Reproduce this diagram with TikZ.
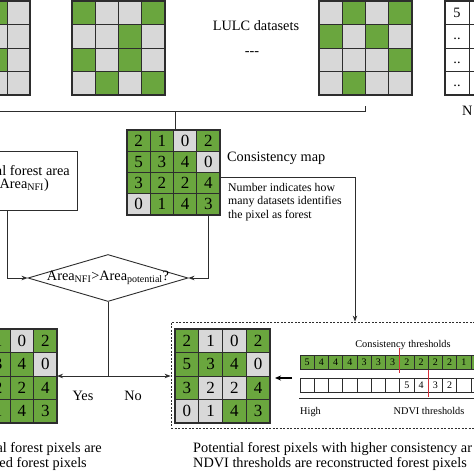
\documentclass[tikz,border=0pt]{standalone}
\usepackage{fontspec}
\setmainfont{Liberation Serif}
\usetikzlibrary{arrows.meta,shapes.geometric,fit,calc}
\definecolor{fg}{RGB}{106,166,62}
\definecolor{gy}{RGB}{216,216,216}
\definecolor{ln}{RGB}{45,45,45}
\definecolor{thr}{RGB}{214,48,58}
\newcommand{\mkgrid}[7]{%
  \foreach \v/\c [count=\i from 0] in {#6} {%
    \pgfmathtruncatemacro{\col}{mod(\i,4)}%
    \pgfmathtruncatemacro{\row}{int(\i/4)}%
    \node[gcell, fill=\c, minimum width=#4pt, minimum height=#5pt, #7] (#1\i) at ({#2+(\col+0.5)*#4},{#3+(\row+0.5)*#5}) {\v};%
  }%
}
\begin{document}
\begin{tikzpicture}[x=1pt,y=-1pt,
  gcell/.style={draw=ln, line width=0.6pt, inner sep=0pt, outer sep=0pt},
  conn/.style={draw=ln, line width=0.9pt},
  arr/.style={conn, -{Stealth[length=6pt,width=4.5pt]}},
  big/.style={font=\fontsize{14.3}{16}\selectfont, inner sep=0pt},
  lbl/.style={font=\fontsize{10.3}{12}\selectfont, inner sep=0pt},
  note/.style={font=\fontsize{11.8}{13}\selectfont, inner sep=0pt},
  dig/.style={font=\fontsize{17}{18}\selectfont},
  sdig/.style={font=\fontsize{10}{11}\selectfont},
  frame/.style={draw=ln, line width=1.1pt, inner sep=0pt, fill=none},
]
\useasboundingbox (0,0) rectangle (474,474);
\fill[white] (0,0) rectangle (474,474);
\begin{scope}
\clip (0,0) rectangle (474,474);
% ---- top row of LULC grids
\mkgrid{ga}{-62}{1}{23}{23.5}{{}/fg,{}/gy,{}/fg,{}/gy, {}/gy,{}/fg,{}/gy,{}/gy, {}/fg,{}/gy,{}/fg,{}/gy, {}/gy,{}/fg,{}/gy,{}/gy}{}
\node[frame, fit=(ga0)(ga15)] (lulcA) {};
\mkgrid{gb}{72}{1}{23.25}{23.5}{{}/fg,{}/gy,{}/gy,{}/fg, {}/gy,{}/gy,{}/fg,{}/gy, {}/fg,{}/gy,{}/fg,{}/gy, {}/gy,{}/fg,{}/gy,{}/fg}{}
\node[frame, fit=(gb0)(gb15)] (lulcB) {};
\mkgrid{gc}{319}{1}{23.25}{23.5}{{}/gy,{}/fg,{}/gy,{}/fg, {}/fg,{}/gy,{}/fg,{}/gy, {}/gy,{}/gy,{}/gy,{}/fg, {}/gy,{}/fg,{}/gy,{}/gy}{}
\node[frame, fit=(gc0)(gc15)] (lulcC) {};
\mkgrid{gd}{445}{1}{24}{23.5}{5/white,{}/white,{}/white,{}/white, {\raisebox{-7pt}{..}}/white,{}/white,{}/white,{}/white, {\raisebox{-7pt}{..}}/white,{}/white,{}/white,{}/white, {\raisebox{-7pt}{..}}/white,{}/white,{}/white,{}/white}{big}
\node[frame, fit=(gd0)(gd15)] (ndviG) {};
\node[big, anchor=base] (lulc) at (256,30) {LULC datasets};
\node[big, anchor=base] (dots) at (252,55) {-{}-{}-};
\node[big, anchor=base west] (ndvilab) at (462,115) {N};
% ---- consistency map
\mkgrid{cm}{127}{130}{23.25}{21.25}{2/fg,1/fg,0/gy,2/fg, 5/fg,3/fg,4/fg,0/gy, 3/fg,2/fg,2/fg,4/fg, 0/gy,1/fg,4/fg,3/fg}{dig}
\node[frame, fit=(cm0)(cm15)] (cmap) {};
\node[big, anchor=base west] (cmlab) at (227,161) {Consistency map};
\node[note, anchor=base west] (n1) at (228,191) {Number indicates how};
\node[note, anchor=base west] (n2) at (228,204.5) {many datasets identifies};
\node[note, anchor=base west] (n3) at (228,218) {the pixel as forest};
% bracket
\coordinate (brL) at (-5,111);
\coordinate (brR) at (365,106);
\coordinate (cmtop) at ([xshift=1.5pt]cm2.north west);
\draw[conn] (brL) -- (brL -| brR) -- (brR);
\draw[conn] (cmtop |- brL) -- (cmtop);
% ---- NFI box
\node[draw=ln, line width=0.9pt, minimum width=110pt, minimum height=59pt, inner sep=0pt] (nfi) at (22,180.5) {};
\node[big, anchor=base east] (nfit1) at (70,175) {al forest area};
\node[big, anchor=base east] (nfit2) at (49,188) {(Area\textsubscript{NFI})};
% ---- decision
\node[diamond, draw=ln, line width=0.9pt, minimum width=160pt, minimum height=47pt, inner sep=0pt] (dec) at (108,278) {};
\node[big, anchor=base] (dect) at (108,280) {Area\textsubscript{NFI}>Area\textsubscript{potential}?};
\coordinate (xa) at (7,0);
\draw[arr] (nfi.south -| xa) |- (dec.west);
\draw[arr] (cm15.south) |- (dec.east);
% ---- dashed box
\node[draw=ln, line width=0.8pt, dash pattern=on 2pt off 1.5pt, minimum width=330pt, minimum height=106pt, inner sep=0pt] (dbox) at (336,375) {};
\coordinate (yc) at (0,177);
\coordinate (xd) at (355,0);
\draw[arr] (cm7.east |- yc) -| (dbox.north -| xd);
% ---- bottom left grid
\mkgrid{bl}{-37}{329}{23.5}{23.5}{2/fg,1/fg,0/gy,2/fg, 5/fg,3/fg,4/fg,0/gy, 3/fg,2/fg,2/fg,4/fg, 0/gy,1/fg,4/fg,3/fg}{dig}
\node[frame, fit=(bl0)(bl15)] (blg) {};
\node[big, anchor=base east] (blt1) at (102,452.5) {al forest pixels are};
\node[big, anchor=base east] (blt2) at (87,467.5) {ed forest pixels};
% split
\coordinate (ys) at (0,376);
\coordinate (split) at (dec.south |- ys);
\draw[conn] (dec.south) -- (split);
\draw[arr] (split) -- (split -| bl3.east);
\draw[arr] (split) -- (split -| dbox.west);
\node[big, anchor=base] (yes) at (83,400) {Yes};
\node[big, anchor=base] (no) at (133,400) {No};
% ---- bottom right grid
\mkgrid{br}{175}{329}{23.75}{23.5}{2/fg,1/gy,0/gy,2/fg, 5/fg,3/fg,4/fg,0/gy, 3/fg,2/gy,2/gy,4/fg, 0/gy,1/gy,4/fg,3/fg}{dig}
\node[frame, fit=(br0)(br15)] (brg) {};
% strips
\foreach \v [count=\i from 0] in {5,4,4,4,3,3,3,2,2,2,2,1,1,0,0,0}
  \node[gcell, fill=fg, minimum width=14.25pt, minimum height=13.5pt, sdig] (sa\i) at ({300+(\i+0.5)*14.25},362.5) {\v};
\foreach \v [count=\i from 0] in {{},{},{},{},{},{},{},5,4,3,2,{},{},{},{},{}}
  \node[gcell, fill=white, minimum width=14.25pt, minimum height=14pt, sdig] (sb\i) at ({300+(\i+0.5)*14.25},385) {\v};
\draw[thr, line width=1.2pt] ([yshift=8pt]sa6.north east) -- ([yshift=-4pt]sa6.south east);
\draw[thr, line width=1.2pt] ([yshift=8pt]sb8.north east) -- ([yshift=-5pt]sb8.south east);
\node[lbl, anchor=base] (ctl) at (403,347) {Consistency thresholds};
\node[lbl, anchor=base west] (high) at (300,414) {High};
\node[lbl, anchor=base] (ndvit) at (429,414) {NDVI thresholds};
\coordinate (ul1) at (299,398);
\coordinate (ul2) at (480,398);
\draw[conn] (ul1) -- (ul2);
\coordinate (aw) at ([yshift=7pt]sb0.west);
\draw[-{Stealth[length=6pt,width=5pt]}, draw=black, line width=1.5pt, shorten <=8pt, shorten >=5pt] (aw) -- (aw -| br3.east);
% bottom text
\node[big, anchor=base west] (brt1) at (193,452.5) {Potential forest pixels with higher consistency ar};
\node[big, anchor=base west] (brt2) at (193,467.5) {NDVI thresholds are reconstructed forest pixels};
\end{scope}
\end{tikzpicture}
\end{document}
